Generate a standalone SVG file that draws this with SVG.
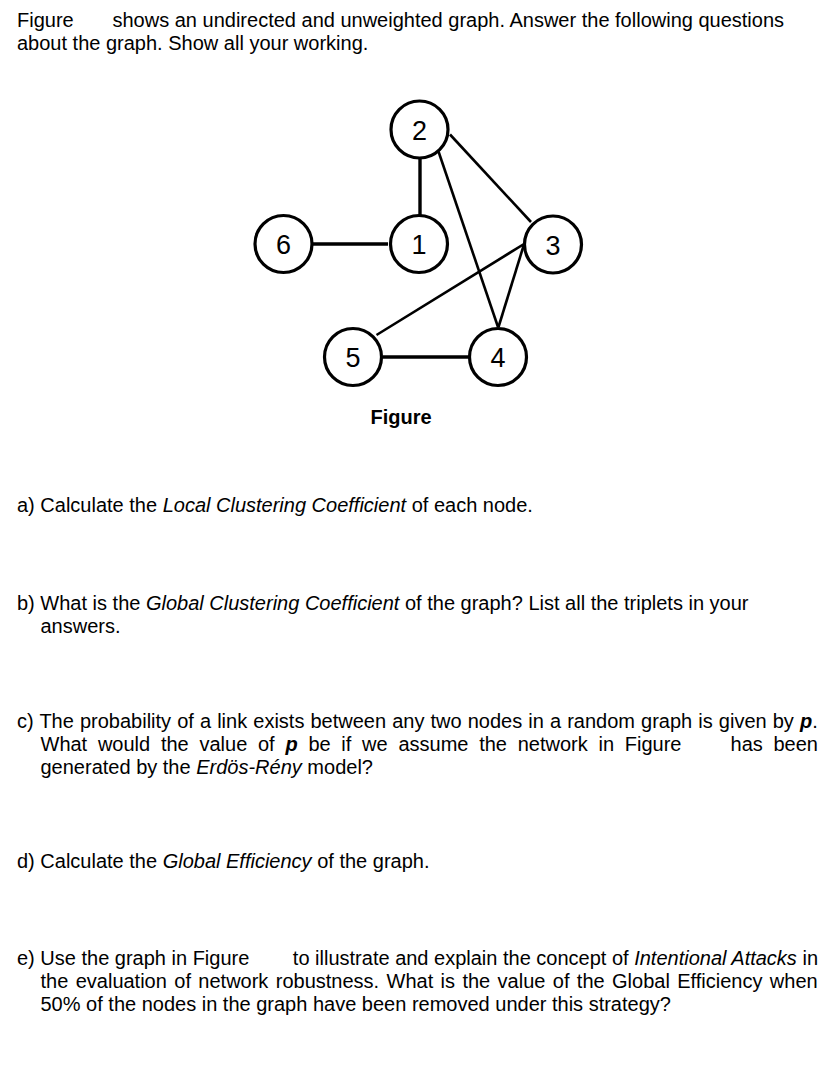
<svg xmlns="http://www.w3.org/2000/svg" width="835" height="1081" viewBox="0 0 835 1081">
<style>
text{font-family:"Liberation Sans",Arial,sans-serif;font-size:20px;fill:#000;font-variant-ligatures:none}
.i{font-style:italic}
.b{font-weight:bold}
.node circle{fill:#fff;stroke:#000;stroke-width:3.2}
.node text{font-size:27px;text-anchor:middle}
.edge{stroke:#000;stroke-width:3.4;fill:none}
.thin{stroke-width:2.6}
</style>
<rect width="835" height="1081" fill="#fff"/>
<g id="intro">
<text x="17" y="27">Figure</text>
<text x="112.5" y="27">shows an undirected and unweighted graph. Answer the following questions</text>
<text x="17" y="50">about the graph. Show all your working.</text>
</g>
<g id="connectors">
<line class="edge" x1="420" y1="158" x2="420" y2="215"/>
<line class="edge" x1="313" y1="244" x2="388" y2="244"/>
<line class="edge thin" x1="450" y1="134.5" x2="531" y2="222"/>
<line class="edge thin" x1="438.5" y1="151.5" x2="498" y2="327"/>
<line class="edge thin" x1="524" y1="244" x2="376.5" y2="335"/>
<line class="edge thin" x1="523.5" y1="246" x2="498.5" y2="327"/>
<line class="edge" x1="383" y1="357" x2="468" y2="357"/>
</g>
<g id="node-2" class="node"><circle cx="419.5" cy="129.5" r="28.5"/><text x="419.5" y="139.5">2</text></g>
<g id="node-1" class="node"><circle cx="419" cy="244" r="28.5"/><text x="419" y="254">1</text></g>
<g id="node-6" class="node"><circle cx="283.5" cy="244" r="28.5"/><text x="283.5" y="254">6</text></g>
<g id="node-3" class="node"><circle cx="553" cy="244.5" r="28.5"/><text x="553" y="254.5">3</text></g>
<g id="node-5" class="node"><circle cx="353" cy="357" r="28.5"/><text x="353" y="367">5</text></g>
<g id="node-4" class="node"><circle cx="498" cy="357" r="28.5"/><text x="498" y="367">4</text></g>
<g id="caption">
<text class="b" x="401" y="424" text-anchor="middle">Figure</text>
</g>
<g id="questions">
<text x="17" y="512">a) Calculate the <tspan class="i">Local Clustering Coefficient</tspan> of each node.</text>
<text x="17" y="609.5">b) What is the <tspan class="i">Global Clustering Coefficient</tspan> of the graph? List all the triplets in your</text>
<text x="40.5" y="632.5">answers.</text>
<text x="17" y="727.5" word-spacing="0.53">c) The probability of a link exists between any two nodes in a random graph is given by <tspan class="b i">p</tspan>.</text>
<text x="40.5" y="750.5" word-spacing="5.18">What would the value of <tspan class="b i">p</tspan> be if we assume the network in Figure</text>
<text x="818" y="750.5" word-spacing="5.18" text-anchor="end">has been</text>
<text x="40.5" y="773.5">generated by the <tspan class="i">Erdös-Rény</tspan> model?</text>
<text x="17" y="868">d) Calculate the <tspan class="i">Global Efficiency</tspan> of the graph.</text>
<text x="17" y="964.5">e) Use the graph in Figure</text>
<text x="818" y="964.5" text-anchor="end">to illustrate and explain the concept of <tspan class="i">Intentional Attacks</tspan> in</text>
<text x="40.5" y="987.5" word-spacing="1.83">the evaluation of network robustness. What is the value of the Global Efficiency when</text>
<text x="40.5" y="1010.5">50% of the nodes in the graph have been removed under this strategy?</text>
</g>
</svg>
